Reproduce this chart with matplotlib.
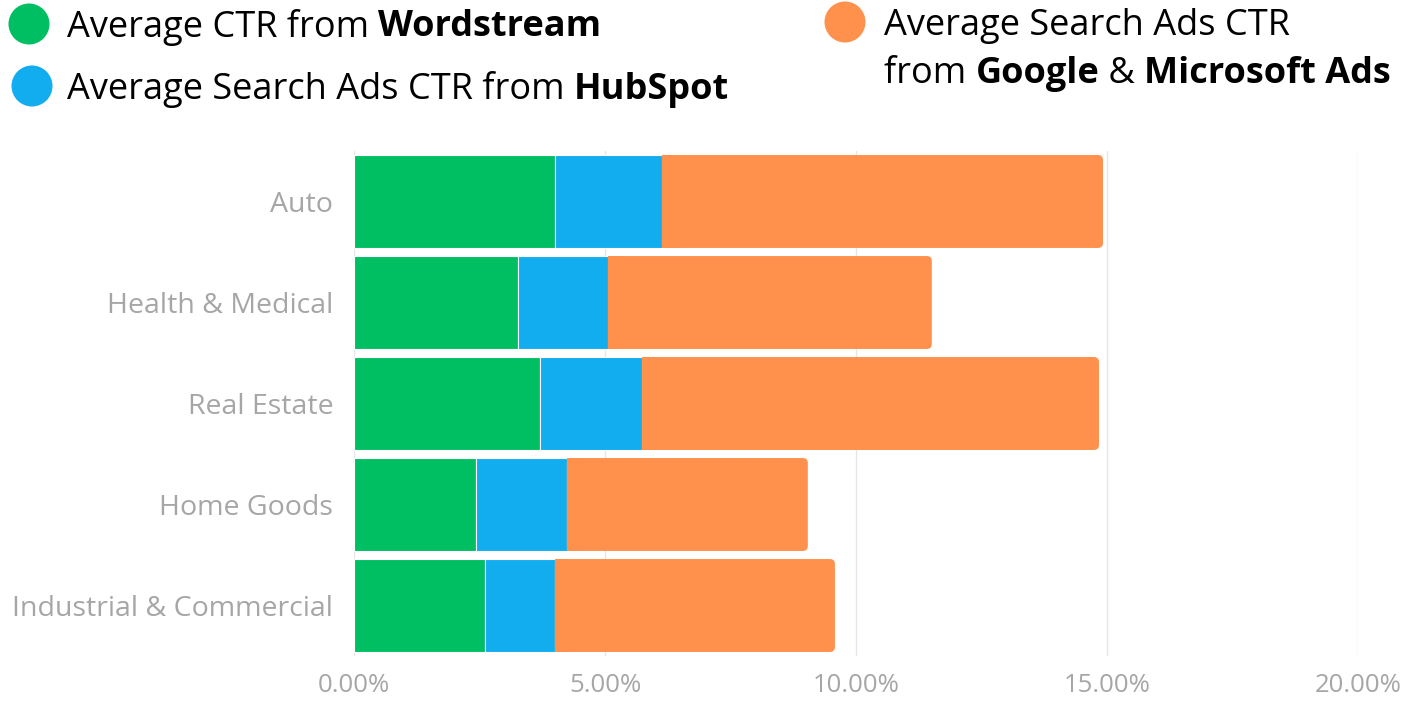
import numpy as np
import matplotlib.pyplot as plt
from matplotlib.patches import FancyBboxPatch, Circle

# Datos (porcentaje de CTR)
categorias = ['Auto', 'Health & Medical', 'Real Estate', 'Home Goods', 'Industrial & Commercial']
wordstream = [4.00, 3.27, 3.71, 2.43, 2.61]
hubspot = [2.14, 1.79, 2.03, 1.81, 1.39]
google_ms = [8.78, 6.45, 9.10, 4.80, 5.58]
ticks = [0, 5, 10, 15, 20]

verde = '#00BF63'
azul = '#12ADEF'
naranja = '#FF914D'
gris = '#A6A6A6'

plt.rcParams['font.family'] = 'Open Sans'

W, H = 1418, 714
fig = plt.figure(figsize=(W/100, H/100), dpi=100)
ax = fig.add_axes([354/W, 1-656/H, (1358-354)/W, (656-151)/H])

y = np.arange(len(categorias))
alto = 0.92
w = np.array(wordstream)
h = np.array(hubspot)
g = np.array(google_ms)

ax.barh(y, w, height=alto, color=verde, edgecolor='white', linewidth=0.8, zorder=3)
ax.barh(y, h, left=w, height=alto, color=azul, edgecolor='white', linewidth=0.8, zorder=3)

# ultima serie con esquinas redondeadas a la derecha
px_x = 20/(1358-354)     # unidades x por pixel
px_y = 5/(656-151)       # unidades y por pixel
for yi, izq, ancho in zip(y, w + h, g):
    ax.add_patch(FancyBboxPatch((izq, yi - alto/2), ancho, alto,
                                boxstyle='round,pad=0,rounding_size=%f' % (5*px_x),
                                mutation_aspect=px_y/px_x,
                                facecolor=naranja, linewidth=0, zorder=3))
    # tapa las esquinas izquierdas
    ax.barh(yi, 0.3, left=izq, height=alto - 0.006, color=naranja, linewidth=0, zorder=3)

ax.set_xlim(0, 20)
ax.set_ylim(len(categorias) - 0.5, -0.5)
ax.set_xticks(ticks)
ax.set_xticklabels(['%.2f%%' % t for t in ticks])
ax.set_yticks(y)
ax.set_yticklabels(categorias)
ax.tick_params(axis='both', length=0, colors=gris)
ax.tick_params(axis='x', pad=12, labelsize=18.5)
ax.tick_params(axis='y', pad=15, labelsize=20.5)
ax.grid(axis='x', color='#E6E6E6', linewidth=1, zorder=0)
for s in ax.spines.values():
    s.set_visible(False)

# Leyenda personalizada
for cx, cy, col in [(29, 24, verde), (32, 86, azul), (845, 22, naranja)]:
    fig.add_artist(Circle((cx, H - cy), 20.5, transform=None,
                          facecolor=col, edgecolor='none'))

def fila(x, yy, piezas):
    ultimo = None
    for txt, peso in piezas:
        if ultimo is None:
            ultimo = fig.text(x/W, 1-yy/H, txt, fontsize=26, fontweight=peso,
                              va='center', ha='left', color='black')
        else:
            ultimo = fig.add_artist(plt.Annotation(txt, xy=(1, 0), xycoords=ultimo,
                                                   fontsize=26, fontweight=peso, va='bottom',
                                                   ha='left', color='black'))

fila(67, 27, [('Average CTR from ', 'normal'), ('Wordstream', 'bold')])
fila(67, 89, [('Average Search Ads CTR from ', 'normal'), ('HubSpot', 'bold')])
fila(884, 26, [('Average Search Ads CTR', 'normal')])
fila(884, 74, [('from ', 'normal'), ('Google', 'bold'), (' & ', 'normal'), ('Microsoft Ads', 'bold')])

fig.savefig('out.png', dpi=100)
